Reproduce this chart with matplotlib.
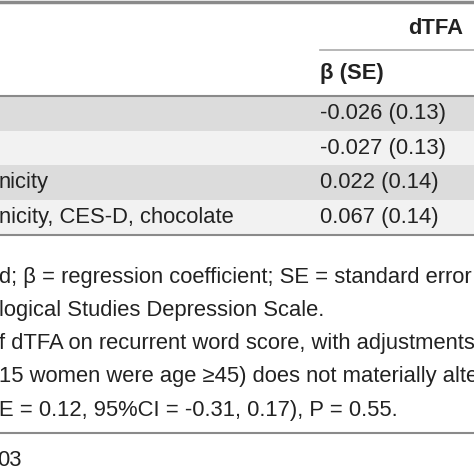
import matplotlib
matplotlib.use("Agg")
import matplotlib.pyplot as plt
from matplotlib.patches import Rectangle

plt.rcParams["font.family"] = ["Liberation Sans", "DejaVu Sans"]

HEADER = "dTFA"
SUBHEADER = "β (SE)"
ROW_LABELS = ["", "", "nicity", "nicity, CES-D, chocolate"]
ROW_VALUES = ["-0.026 (0.13)", "-0.027 (0.13)", "0.022 (0.14)", "0.067 (0.14)"]
FOOTNOTES = [
    "d; β = regression coefficient; SE = standard error",
    "logical Studies Depression Scale.",
    "f dTFA on recurrent word score, with adjustments",
    "15 women were age \u226545) does not materially alter",
    "E = 0.12, 95%CI = -0.31, 0.17), P = 0.55.",
]
SOURCE = "03"

W = H = 474
FS = 15.8
fig = plt.figure(figsize=(4.74, 4.74), dpi=100)
ax = fig.add_axes([0, 0, 1, 1])
ax.set_xlim(0, W); ax.set_ylim(H, 0); ax.axis("off")
txt = "#222222"
line = "#8a8a8a"

ax.plot([0, W], [2, 2], color=line, lw=2.5)
ax.text(408, 28, HEADER, fontsize=FS, fontweight="bold", va="center", color=txt)
ax.plot([320, W], [50, 50], color="#aaaaaa", lw=1.2)
ax.text(320, 73, SUBHEADER, fontsize=FS, fontweight="bold", va="center", color=txt)

top, rh = 96, 34.7
for i, (lab, val) in enumerate(zip(ROW_LABELS, ROW_VALUES)):
    y0 = top + i * rh
    ax.add_patch(Rectangle((0, y0), W, rh, color="#dcdcdc" if i % 2 == 0 else "#f2f2f2", lw=0))
    ax.text(-1, y0 + rh / 2, lab, fontsize=FS, va="center", color=txt)
    ax.text(320, y0 + rh / 2, val, fontsize=FS, va="center", color=txt)
ax.plot([0, W], [top, top], color=line, lw=1.5)
ax.plot([0, W], [top + 4 * rh, top + 4 * rh], color=line, lw=1.5)

for i, f in enumerate(FOOTNOTES):
    ax.text(-1, 277 + i * 33.3, f, fontsize=FS, va="center", color=txt)
ax.plot([0, W], [433, 433], color=line, lw=1.5)
ax.text(-3, 460, SOURCE, fontsize=FS, va="center", color=txt)

fig.savefig("out.png", dpi=100)
